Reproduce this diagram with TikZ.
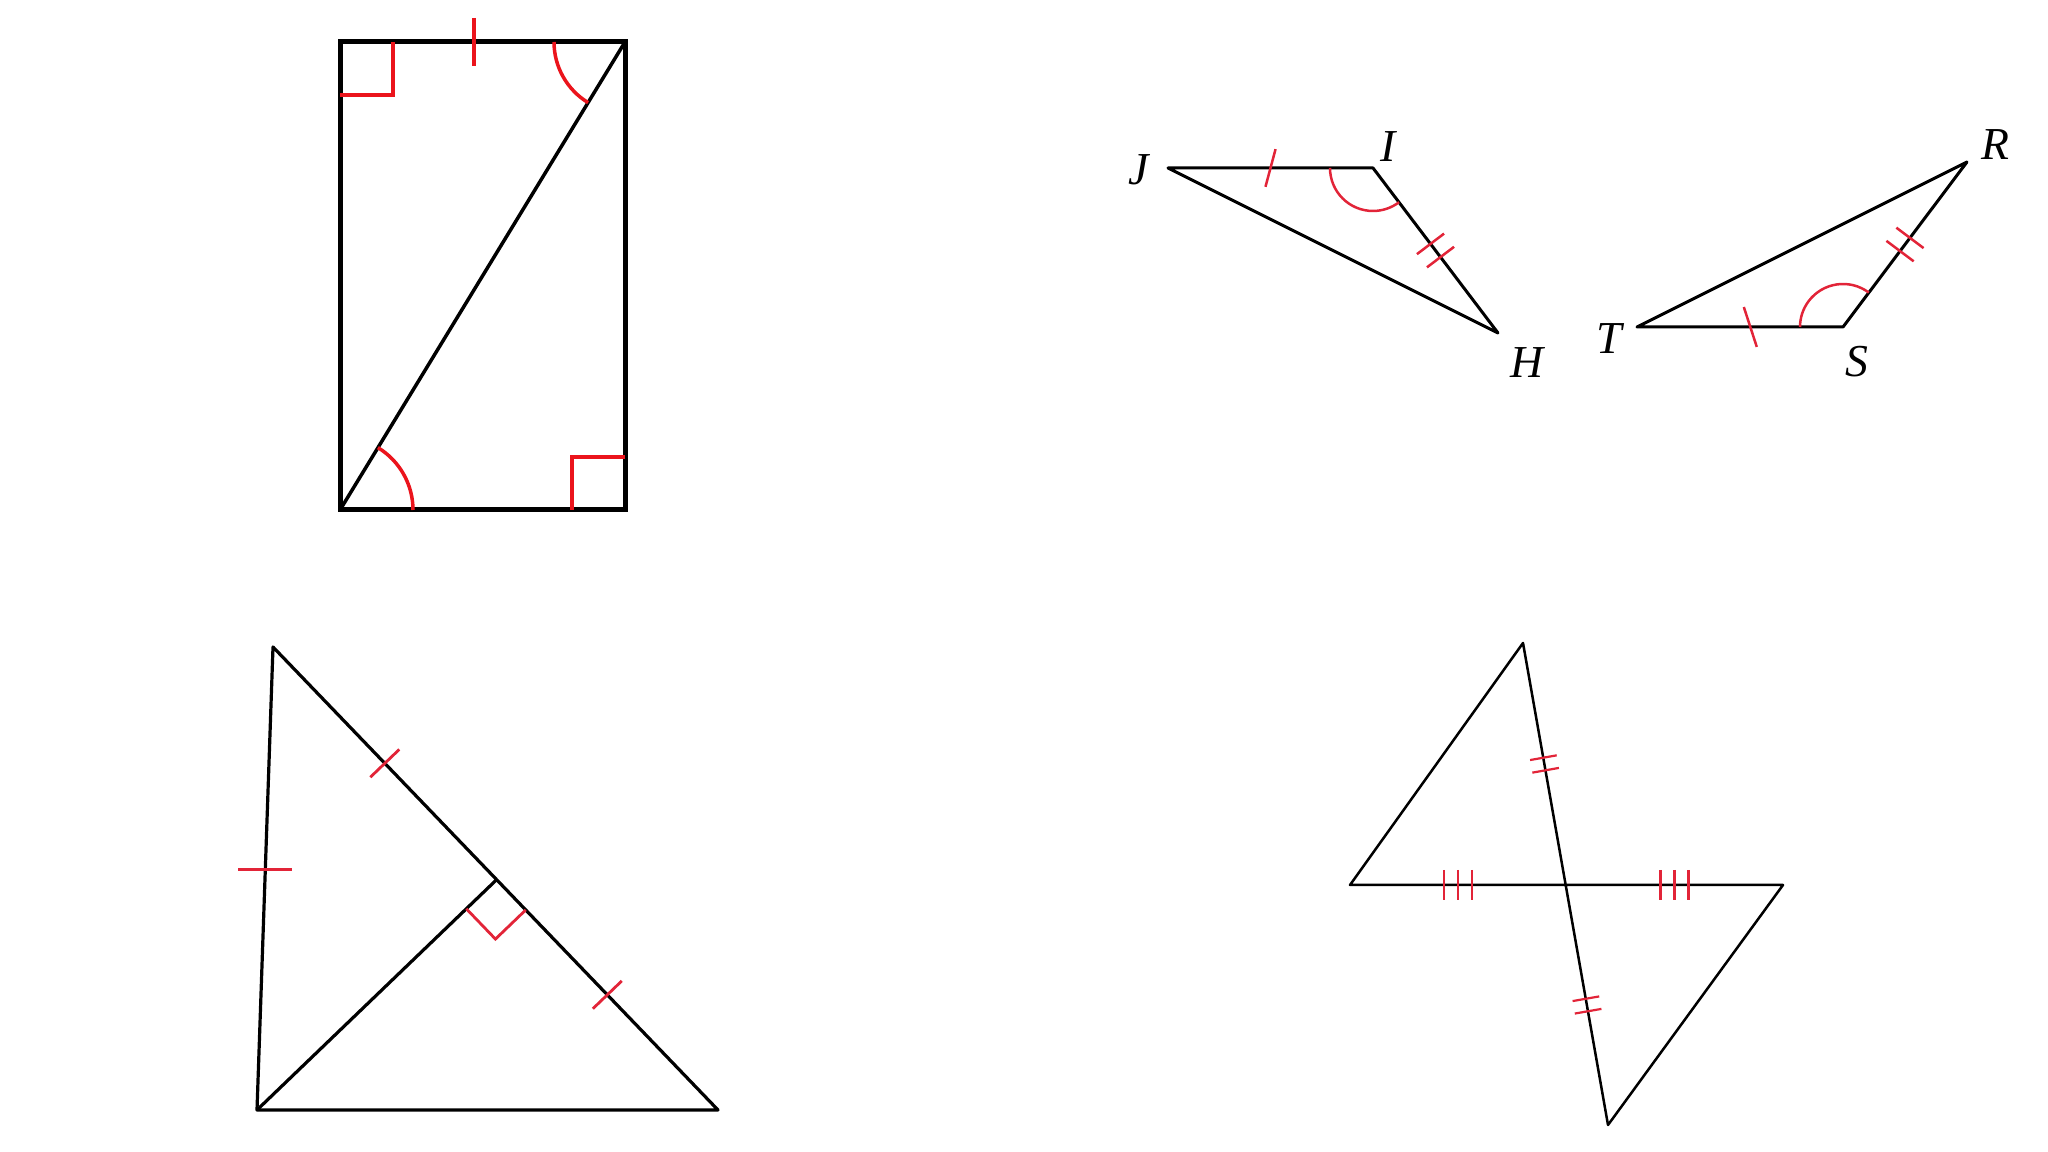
\documentclass[tikz,border=0pt]{standalone}
\usepackage{fontspec}
\setmainfont{Liberation Serif}
\usetikzlibrary{calc}
\definecolor{markred}{RGB}{235,20,28}
\definecolor{tickred}{RGB}{226,36,56}
\def\anglearc[#1](#2)(#3:#4:#5){\draw[#1] ($(#2)+(#3:#5)$) arc (#3:#4:#5);}
\def\tick[#1](#2)(#3)(#4:#5:#6){%
	\coordinate (tm) at ($(#2)!#4!(#3)$);
	\coordinate (tp) at ($(tm)!#6!#5:(#3)$);
	\draw[#1] (tp) -- ($(tp)!2!(tm)$);}
\tikzset{
	vlabel/.style={font=\fontsize{13}{15}\selectfont\itshape, inner sep=0pt},
}

\begin{document}
\begin{tikzpicture}[x=0.01cm, y=0.01cm]
		\useasboundingbox (0,0) rectangle (2048,1152);
		%%%%% RECTANGLE %%%%%
		\coordinate (rA) at (340,1110);
		\coordinate (rB) at (625,1110);
		\coordinate (rC) at (625,642);
		\coordinate (rD) at (340,642);
		\draw[line width=0.5mm] (rA) -- (rB) -- (rC) -- (rD) -- cycle;
		\draw[line width=0.35mm] (rD) -- (rB);
		
		\draw[line width=0.4mm, color=markred] ($(rA)+(0,-53)$) -- ++(53,0) -- ++(0,53);
		\draw[line width=0.4mm, color=markred] ($(rC)+(-53,0)$) -- ++(0,53) -- ++(53,0);
		\draw[line width=0.35mm, color=markred] ($(rA)!0.47!(rB)+(0,24)$) -- ++(0,-48);
		\anglearc[line width=0.35mm, color=markred](rB)(180:238.7:71)
		\anglearc[line width=0.35mm, color=markred](rD)(0:58.7:73)
		
		%%%%% TRIANGLE JIH %%%%%
		\coordinate (J) at (1168,984);
		\coordinate (I) at (1373,984);
		\coordinate (H) at (1498,819);
		\draw[line width=0.3mm, line join=round] (J) -- (I) -- (H) -- cycle;
		\node[vlabel] (lJ) at (1139,982) {J};
		\node[vlabel] (lI) at (1388,1005) {I};
		\node[vlabel] (lH) at (1527,789) {H};
		
		\tick[line width=0.25mm, color=tickred](J)(I)(0.5:75:0.195cm)
		\anglearc[line width=0.25mm, color=tickred](I)(180:307.2:43)
		\foreach \t in {0.46,0.54}{
			\tick[line width=0.25mm, color=tickred](I)(H)(\t:90:0.17cm)
		}
		
		%%%%% TRIANGLE RST %%%%%
		\coordinate (R) at (1967,990);
		\coordinate (S) at (1843,825);
		\coordinate (T) at (1637,825);
		\draw[line width=0.3mm, line join=round] (T) -- (S) -- (R) -- cycle;
		\node[vlabel] (lR) at (1995,1007) {R};
		\node[vlabel] (lS) at (1857,790) {S};
		\node[vlabel] (lT) at (1609,813) {T};
		
		\tick[line width=0.25mm, color=tickred](T)(S)(0.55:108:0.21cm)
		\anglearc[line width=0.25mm, color=tickred](S)(53.2:180:43)
		\foreach \t in {0.46,0.54}{
			\tick[line width=0.25mm, color=tickred](S)(R)(\t:90:0.17cm)
		}
		
		%%%%% TRIANGLE WITH ALTITUDE %%%%%
		\coordinate (bA) at (273,505);
		\coordinate (bB) at (257,42);
		\coordinate (bC) at (718,42);
		\coordinate (bD) at ($(bA)!(bB)!(bC)$);
		\draw[line width=0.32mm, line join=round] (bA) -- (bB) -- (bC) -- cycle;
		\draw[line width=0.32mm] (bB) -- (bD);
		
		\coordinate (bDb) at ($(bD)!0.42cm!(bB)$);
		\coordinate (bDc) at ($(bD)!0.42cm!(bC)$);
		\draw[line width=0.28mm, color=tickred] (bDb) -- ($(bDb)+(bDc)-(bD)$) -- (bDc);
		\draw[line width=0.28mm, color=tickred] ($(bA)!0.48!(bB)+(-27,0)$) -- ++(54,0);
		\tick[line width=0.28mm, color=tickred](bA)(bD)(0.5:90:0.2cm)
		\tick[line width=0.28mm, color=tickred](bD)(bC)(0.5:90:0.2cm)
		
		%%%%% BOWTIE %%%%%
		\coordinate (wT) at (1523,509);
		\coordinate (wL) at (1350,267);
		\coordinate (wO) at (1566,267);
		\coordinate (wR) at (1783,267);
		\coordinate (wB) at (1608,27);
		\draw[line width=0.25mm, line join=round] (wO) -- (wL) -- (wT) -- (wB) -- (wR) -- (wO);
		
		\foreach \t in {0.435,0.5,0.565}{
			\tick[line width=0.25mm, color=tickred](wL)(wO)(\t:90:0.15cm)
			\tick[line width=0.25mm, color=tickred](wO)(wR)(\t:90:0.15cm)
		}
		\foreach \t in {0.474,0.526}{
			\tick[line width=0.22mm, color=tickred](wT)(wO)(\t:90:0.135cm)
			\tick[line width=0.22mm, color=tickred](wO)(wB)(\t:90:0.135cm)
		}
		
		%%%%% END %%%%%
\end{tikzpicture}
\end{document}
